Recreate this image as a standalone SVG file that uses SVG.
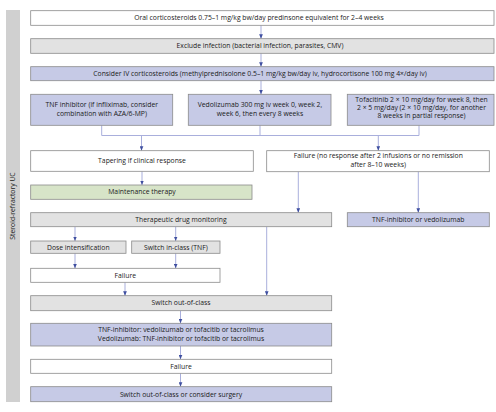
<svg xmlns="http://www.w3.org/2000/svg" width="496" height="412" viewBox="0 0 496 412">
<style>
text{font-family:"Open Sans","Noto Sans","Liberation Sans",sans-serif;font-size:6.8px;fill:#1a1a1a;text-anchor:middle}
.b{stroke:#8a8a8a;stroke-width:0.8}
.w{fill:#ffffff}
.g{fill:#e2e2e2}
.l{fill:#c6cae6}
.gr{fill:#d7e4c8}
.c{fill:none;stroke:#a9afdc;stroke-width:1}
</style>
<defs>
<marker id="ah" viewBox="0 0 6 5" refX="6" refY="2.5" markerWidth="4.5" markerHeight="4" markerUnits="userSpaceOnUse" orient="auto">
<path d="M0,0 L6,2.5 L0,5 Z" fill="#3f4fa0"/>
</marker>
</defs>
<rect x="6" y="10" width="14" height="392" fill="#d0d0d0"/>
<text transform="translate(15.3,206) rotate(-90)">Steroid-refractory UC</text>

<g id="connectors">
<path class="c" d="M261,25.3 V38.7" marker-end="url(#ah)"/>
<path class="c" d="M261,53.3 V66.7" marker-end="url(#ah)"/>
<path class="c" d="M261,80.7 V94.3" marker-end="url(#ah)"/>
<path class="c" d="M101.7,125.3 V135.5 H419 V125.3 M260,125.3 V135.5"/>
<path class="c" d="M141.5,135.5 V150.7" marker-end="url(#ah)"/>
<path class="c" d="M378.3,135.5 V150.7" marker-end="url(#ah)"/>
<path class="c" d="M142,171.3 V185" marker-end="url(#ah)"/>
<path class="c" d="M298.3,171.7 V212.7" marker-end="url(#ah)"/>
<path class="c" d="M418.3,171.7 V212.7" marker-end="url(#ah)"/>
<path class="c" d="M75,226.7 V241" marker-end="url(#ah)"/>
<path class="c" d="M175.7,226.7 V241" marker-end="url(#ah)"/>
<path class="c" d="M266.7,226.7 V295.7" marker-end="url(#ah)"/>
<path class="c" d="M75,253.3 V268.3" marker-end="url(#ah)"/>
<path class="c" d="M175.7,253.3 V268.3" marker-end="url(#ah)"/>
<path class="c" d="M125,282.3 V295.7" marker-end="url(#ah)"/>
<path class="c" d="M180.5,310.7 V323.3" marker-end="url(#ah)"/>
<path class="c" d="M180.5,346 V359.3" marker-end="url(#ah)"/>
<path class="c" d="M180.5,373.3 V386.7" marker-end="url(#ah)"/>
</g>

<g id="oral">
<rect class="b w" x="30.7" y="10.7" width="463.3" height="14.6"/>
<text x="259" y="20.4">Oral corticosteroids 0.75–1 mg/kg bw/day predinsone equivalent for 2–4 weeks</text>
</g>
<g id="exclude">
<rect class="b g" x="30.7" y="38.7" width="463.3" height="14.6"/>
<text x="260" y="48.4">Exclude infection (bacterial infection, parasites, CMV)</text>
</g>
<g id="iv">
<rect class="b l" x="30.7" y="66.7" width="463.3" height="14"/>
<text x="260" y="76.1">Consider IV corticosteroids (methylprednisolone 0.5–1 mg/kg bw/day iv, hydrocortisone 100 mg 4×/day iv)</text>
</g>
<g id="tnf">
<rect class="b l" x="30.7" y="94.3" width="142" height="31"/>
<text x="101.8" y="107.3">TNF inhibitor (if infliximab, consider</text>
<text x="101.8" y="116.3">combination with AZA/6-MP)</text>
</g>
<g id="vedo">
<rect class="b l" x="188.3" y="94.3" width="142.7" height="31"/>
<text x="260" y="107.3">Vedolizumab 300 mg iv week 0, week 2,</text>
<text x="260" y="116.3">week 6, then every 8 weeks</text>
</g>
<g id="tofa">
<rect class="b l" x="347.3" y="94.3" width="146.7" height="31"/>
<text x="421.5" y="101.8">Tofacitinib 2 × 10 mg/day for week 8, then</text>
<text x="421.5" y="109.8">2 × 5 mg/day (2 × 10 mg/day, for another</text>
<text x="421.5" y="117.8">8 weeks in partial response)</text>
</g>
<g id="tapering">
<rect class="b w" x="30.7" y="150.7" width="222.6" height="20.6"/>
<text x="142" y="163.2">Tapering if clinical response</text>
</g>
<g id="failure1">
<rect class="b w" x="266.7" y="150.7" width="222.6" height="21"/>
<text x="378.3" y="157.5">Failure (no response after 2 infusions or no remission</text>
<text x="378.3" y="166.5">after 8–10 weeks)</text>
</g>
<g id="maintenance">
<rect class="b gr" x="30.7" y="185" width="221.3" height="14.3"/>
<text x="142" y="194.4">Maintenance therapy</text>
</g>
<g id="tdm">
<rect class="b g" x="30.7" y="212.7" width="301" height="14"/>
<text x="181" y="221.9">Therapeutic drug monitoring</text>
</g>
<g id="tnfvedo">
<rect class="b l" x="347.3" y="212.7" width="142" height="14"/>
<text x="418.3" y="221.9">TNF-inhibitor or vedolizumab</text>
</g>
<g id="dose">
<rect class="b g" x="30.7" y="241" width="95.3" height="12.3"/>
<text x="78.3" y="249.5">Dose intensification</text>
</g>
<g id="switchin">
<rect class="b g" x="131.7" y="241" width="88.3" height="12.3"/>
<text x="175.8" y="249.5">Switch in-class (TNF)</text>
</g>
<g id="failure2">
<rect class="b w" x="30.7" y="268.3" width="189.3" height="14"/>
<text x="125.3" y="277.5">Failure</text>
</g>
<g id="switchout">
<rect class="b g" x="30.7" y="295.7" width="301" height="15"/>
<text x="181" y="305.4">Switch out-of-class</text>
</g>
<g id="options">
<rect class="b l" x="30.7" y="323.3" width="301" height="22.7"/>
<text x="181" y="332.4">TNF-inhibitor: vedolizumab or tofacitib or tacrolimus</text>
<text x="181" y="341.4">Vedolizumab: TNF-inhibitor or tofacitib or tacrolimus</text>
</g>
<g id="failure3">
<rect class="b w" x="30.7" y="359.3" width="301" height="14"/>
<text x="181" y="368.5">Failure</text>
</g>
<g id="surgery">
<rect class="b l" x="30.7" y="386.7" width="301" height="15"/>
<text x="181" y="396.5">Switch out-of-class or consider surgery</text>
</g>
</svg>
